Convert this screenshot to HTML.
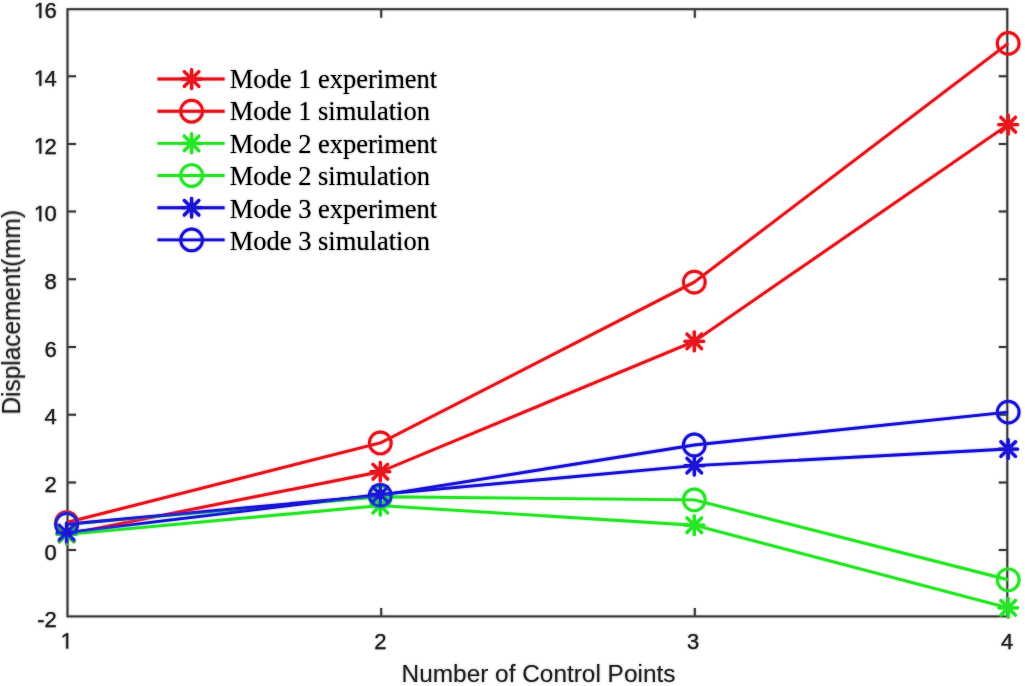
<!DOCTYPE html>
<html><head><meta charset="utf-8"><style>
html,body{margin:0;padding:0;background:#fff;width:1025px;height:686px;overflow:hidden;}
svg{display:block;}
.t{font-family:"Liberation Sans",sans-serif;fill:#262626;stroke:#262626;stroke-width:0.25px;}
.a{font-family:"Liberation Sans",sans-serif;fill:#262626;}
.l{font-family:"Liberation Serif",serif;fill:#000;stroke:#000;stroke-width:0px;}
</style></head><body>
<svg width="1025" height="686" viewBox="0 0 1025 686">
<defs><filter id="b" filterUnits="userSpaceOnUse" x="0" y="0" width="1025" height="686"><feGaussianBlur stdDeviation="1.0"/></filter><filter id="n" filterUnits="userSpaceOnUse" x="0" y="0" width="1025" height="686"><feOffset dx="0" dy="0"/></filter></defs>
<rect width="1025" height="686" fill="#fff"/>
<g id="main" filter="url(#n)">

<rect x="67.5" y="9.2" width="939.80" height="607.20" fill="none" stroke="#404040" stroke-width="2.0"/>
<path d="M67.50 550.10h8.5M1007.30 550.10h-8.5M67.50 482.40h8.5M1007.30 482.40h-8.5M67.50 414.70h8.5M1007.30 414.70h-8.5M67.50 347.00h8.5M1007.30 347.00h-8.5M67.50 279.30h8.5M1007.30 279.30h-8.5M67.50 211.60h8.5M1007.30 211.60h-8.5M67.50 143.90h8.5M1007.30 143.90h-8.5M67.50 76.20h8.5M1007.30 76.20h-8.5M381.20 616.40v-8.5M381.20 9.20v8.5M694.80 616.40v-8.5M694.80 9.20v8.5" stroke="#404040" stroke-width="2.0" fill="none"/>
<polyline points="66.60,534.36 380.30,471.72 694.30,341.36 1008.20,124.66" fill="none" stroke="#e8161e" stroke-width="2.9" stroke-linejoin="round"/>
<path d="M57.20 534.36H76.00M66.60 524.96V543.76M59.30 527.06L73.90 541.66M59.30 541.66L73.90 527.06" stroke="#e8161e" stroke-width="3.3" fill="none" stroke-linecap="round"/><circle cx="66.60" cy="534.36" r="4.6" fill="#e8161e"/>
<path d="M370.90 471.72H389.70M380.30 462.32V481.12M373.00 464.42L387.60 479.02M373.00 479.02L387.60 464.42" stroke="#e8161e" stroke-width="3.3" fill="none" stroke-linecap="round"/><circle cx="380.30" cy="471.72" r="4.6" fill="#e8161e"/>
<path d="M684.90 341.36H703.70M694.30 331.96V350.76M687.00 334.06L701.60 348.66M687.00 348.66L701.60 334.06" stroke="#e8161e" stroke-width="3.3" fill="none" stroke-linecap="round"/><circle cx="694.30" cy="341.36" r="4.6" fill="#e8161e"/>
<path d="M998.80 124.66H1017.60M1008.20 115.26V134.06M1000.90 117.36L1015.50 131.96M1000.90 131.96L1015.50 117.36" stroke="#e8161e" stroke-width="3.3" fill="none" stroke-linecap="round"/><circle cx="1008.20" cy="124.66" r="4.6" fill="#e8161e"/>
<polyline points="66.60,522.51 380.30,442.94 694.30,282.11 1008.20,43.39" fill="none" stroke="#e8161e" stroke-width="2.9" stroke-linejoin="round"/>
<circle cx="66.60" cy="522.51" r="10.9" fill="none" stroke="#e8161e" stroke-width="2.9"/>
<circle cx="380.30" cy="442.94" r="10.9" fill="none" stroke="#e8161e" stroke-width="2.9"/>
<circle cx="694.30" cy="282.11" r="10.9" fill="none" stroke="#e8161e" stroke-width="2.9"/>
<circle cx="1008.20" cy="43.39" r="10.9" fill="none" stroke="#e8161e" stroke-width="2.9"/>
<polyline points="66.60,534.36 380.30,505.58 694.30,525.22 1008.20,607.84" fill="none" stroke="#26e626" stroke-width="2.9" stroke-linejoin="round"/>
<path d="M57.20 534.36H76.00M66.60 524.96V543.76M59.30 527.06L73.90 541.66M59.30 541.66L73.90 527.06" stroke="#26e626" stroke-width="3.3" fill="none" stroke-linecap="round"/><circle cx="66.60" cy="534.36" r="4.6" fill="#26e626"/>
<path d="M370.90 505.58H389.70M380.30 496.18V514.98M373.00 498.28L387.60 512.88M373.00 512.88L387.60 498.28" stroke="#26e626" stroke-width="3.3" fill="none" stroke-linecap="round"/><circle cx="380.30" cy="505.58" r="4.6" fill="#26e626"/>
<path d="M684.90 525.22H703.70M694.30 515.82V534.62M687.00 517.92L701.60 532.52M687.00 532.52L701.60 517.92" stroke="#26e626" stroke-width="3.3" fill="none" stroke-linecap="round"/><circle cx="694.30" cy="525.22" r="4.6" fill="#26e626"/>
<path d="M998.80 607.84H1017.60M1008.20 598.44V617.24M1000.90 600.54L1015.50 615.14M1000.90 615.14L1015.50 600.54" stroke="#26e626" stroke-width="3.3" fill="none" stroke-linecap="round"/><circle cx="1008.20" cy="607.84" r="4.6" fill="#26e626"/>
<polyline points="66.60,524.21 380.30,496.78 694.30,499.83 1008.20,579.74" fill="none" stroke="#26e626" stroke-width="2.9" stroke-linejoin="round"/>
<circle cx="66.60" cy="524.21" r="10.9" fill="none" stroke="#26e626" stroke-width="2.9"/>
<circle cx="380.30" cy="496.78" r="10.9" fill="none" stroke="#26e626" stroke-width="2.9"/>
<circle cx="694.30" cy="499.83" r="10.9" fill="none" stroke="#26e626" stroke-width="2.9"/>
<circle cx="1008.20" cy="579.74" r="10.9" fill="none" stroke="#26e626" stroke-width="2.9"/>
<polyline points="66.60,532.67 380.30,494.41 694.30,465.63 1008.20,449.04" fill="none" stroke="#1a14d8" stroke-width="2.9" stroke-linejoin="round"/>
<path d="M57.20 532.67H76.00M66.60 523.27V542.07M59.30 525.37L73.90 539.97M59.30 539.97L73.90 525.37" stroke="#1a14d8" stroke-width="3.3" fill="none" stroke-linecap="round"/><circle cx="66.60" cy="532.67" r="4.6" fill="#1a14d8"/>
<path d="M370.90 494.41H389.70M380.30 485.01V503.81M373.00 487.11L387.60 501.71M373.00 501.71L387.60 487.11" stroke="#1a14d8" stroke-width="3.3" fill="none" stroke-linecap="round"/><circle cx="380.30" cy="494.41" r="4.6" fill="#1a14d8"/>
<path d="M684.90 465.63H703.70M694.30 456.23V475.03M687.00 458.33L701.60 472.93M687.00 472.93L701.60 458.33" stroke="#1a14d8" stroke-width="3.3" fill="none" stroke-linecap="round"/><circle cx="694.30" cy="465.63" r="4.6" fill="#1a14d8"/>
<path d="M998.80 449.04H1017.60M1008.20 439.64V458.44M1000.90 441.74L1015.50 456.34M1000.90 456.34L1015.50 441.74" stroke="#1a14d8" stroke-width="3.3" fill="none" stroke-linecap="round"/><circle cx="1008.20" cy="449.04" r="4.6" fill="#1a14d8"/>
<polyline points="66.60,524.21 380.30,495.42 694.30,444.97 1008.20,412.13" fill="none" stroke="#1a14d8" stroke-width="2.9" stroke-linejoin="round"/>
<circle cx="66.60" cy="524.21" r="10.9" fill="none" stroke="#1a14d8" stroke-width="2.9"/>
<circle cx="380.30" cy="495.42" r="10.9" fill="none" stroke="#1a14d8" stroke-width="2.9"/>
<circle cx="694.30" cy="444.97" r="10.9" fill="none" stroke="#1a14d8" stroke-width="2.9"/>
<circle cx="1008.20" cy="412.13" r="10.9" fill="none" stroke="#1a14d8" stroke-width="2.9"/>
<text class="t" x="37.24" y="627.40" font-size="22">-2</text>
<text class="t" x="44.56" y="559.70" font-size="22">0</text>
<text class="t" x="44.56" y="492.00" font-size="22">2</text>
<text class="t" x="44.56" y="424.30" font-size="22">4</text>
<text class="t" x="44.56" y="356.60" font-size="22">6</text>
<text class="t" x="44.56" y="288.90" font-size="22">8</text>
<path class="t" d="M39.37 221.20L39.37 207.91L35.95 210.35L35.95 208.52L39.53 206.06L41.31 206.06L41.31 221.20Z"/>
<text class="t" x="44.56" y="221.20" font-size="22">0</text>
<path class="t" d="M39.37 153.50L39.37 140.21L35.95 142.65L35.95 140.82L39.53 138.36L41.31 138.36L41.31 153.50Z"/>
<text class="t" x="44.56" y="153.50" font-size="22">2</text>
<path class="t" d="M39.37 85.80L39.37 72.51L35.95 74.95L35.95 73.12L39.53 70.66L41.31 70.66L41.31 85.80Z"/>
<text class="t" x="44.56" y="85.80" font-size="22">4</text>
<path class="t" d="M39.37 18.10L39.37 4.81L35.95 7.25L35.95 5.42L39.53 2.96L41.31 2.96L41.31 18.10Z"/>
<text class="t" x="44.56" y="18.10" font-size="22">6</text>
<path class="t" d="M66.22 648.50L66.22 635.21L62.80 637.65L62.80 635.82L66.38 633.36L68.16 633.36L68.16 648.50Z"/>
<text class="t" x="374.28" y="648.50" font-size="22">2</text>
<text class="t" x="686.88" y="648.50" font-size="22">3</text>
<text class="t" x="1000.98" y="648.50" font-size="22">4</text>
<text class="a" x="538.5" y="681.5" font-size="24.4" text-anchor="middle">Number of Control Points</text>
<text class="a" x="0" y="0" font-size="24.4" text-anchor="middle" transform="translate(20.2 312.3) rotate(-90) scale(1 1.05)">Displacement(mm)</text>
<path d="M157.5 79.00H224.6" stroke="#e8161e" stroke-width="2.9"/>
<path d="M182.20 79.00H201.00M191.60 69.60V88.40M184.30 71.70L198.90 86.30M184.30 86.30L198.90 71.70" stroke="#e8161e" stroke-width="3.3" fill="none" stroke-linecap="round"/><circle cx="191.60" cy="79.00" r="4.6" fill="#e8161e"/>
<text class="l" x="229.7" y="87.50" font-size="26.5">Mode 1 experiment</text>
<path d="M157.5 111.18H224.6" stroke="#e8161e" stroke-width="2.9"/>
<circle cx="191.60" cy="111.18" r="10.9" fill="none" stroke="#e8161e" stroke-width="2.9"/>
<text class="l" x="229.7" y="120.00" font-size="26.5">Mode 1 simulation</text>
<path d="M157.5 143.36H224.6" stroke="#26e626" stroke-width="2.9"/>
<path d="M182.20 143.36H201.00M191.60 133.96V152.76M184.30 136.06L198.90 150.66M184.30 150.66L198.90 136.06" stroke="#26e626" stroke-width="3.3" fill="none" stroke-linecap="round"/><circle cx="191.60" cy="143.36" r="4.6" fill="#26e626"/>
<text class="l" x="229.7" y="152.50" font-size="26.5">Mode 2 experiment</text>
<path d="M157.5 175.54H224.6" stroke="#26e626" stroke-width="2.9"/>
<circle cx="191.60" cy="175.54" r="10.9" fill="none" stroke="#26e626" stroke-width="2.9"/>
<text class="l" x="229.7" y="185.00" font-size="26.5">Mode 2 simulation</text>
<path d="M157.5 207.72H224.6" stroke="#1a14d8" stroke-width="2.9"/>
<path d="M182.20 207.72H201.00M191.60 198.32V217.12M184.30 200.42L198.90 215.02M184.30 215.02L198.90 200.42" stroke="#1a14d8" stroke-width="3.3" fill="none" stroke-linecap="round"/><circle cx="191.60" cy="207.72" r="4.6" fill="#1a14d8"/>
<text class="l" x="229.7" y="217.50" font-size="26.5">Mode 3 experiment</text>
<path d="M157.5 239.90H224.6" stroke="#1a14d8" stroke-width="2.9"/>
<circle cx="191.60" cy="239.90" r="10.9" fill="none" stroke="#1a14d8" stroke-width="2.9"/>
<text class="l" x="229.7" y="250.00" font-size="26.5">Mode 3 simulation</text>
</g>
<use href="#main" filter="url(#b)" opacity="0.5"/>
</svg>
</body></html>
